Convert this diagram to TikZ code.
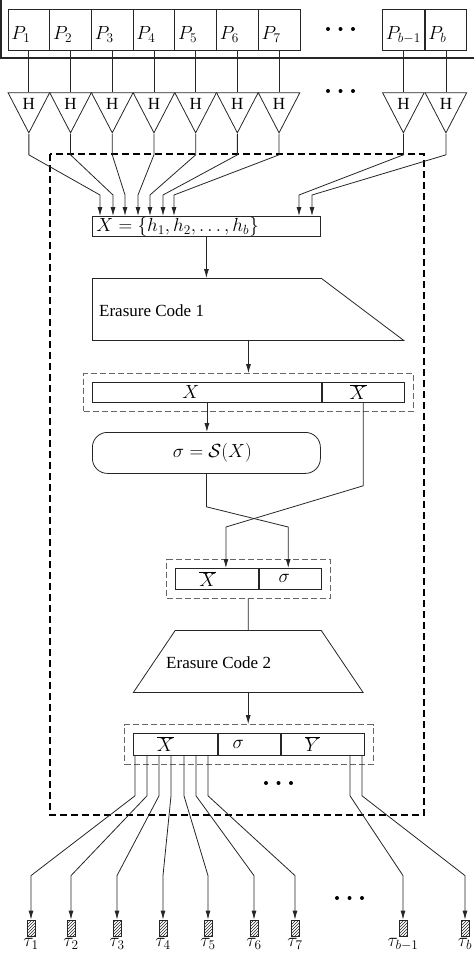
\RequirePackage{fix-cm}
\documentclass[tikz,border=0pt]{standalone}
\usepackage[no-math]{fontspec}
\setmainfont{Liberation Serif}
\usetikzlibrary{positioning,shapes.geometric,arrows.meta,fit,patterns}

\newcommand{\labfont}{\fontsize{17}{20}\selectfont}
\newcommand{\symfont}{\fontsize{19}{22}\selectfont}

\tikzset{
  base/.style={draw=black!85, line width=0.8pt},
  arr/.style={-{Latex[length=9pt,width=5pt]}},
  pbox/.style={base, rectangle, minimum width=41.7pt, minimum height=41pt, inner sep=0pt,
    text width=35pt, align=left, text height=21pt, text depth=0pt, font=\symfont},
  htri/.style={base, isosceles triangle, isosceles triangle stretches, shape border rotate=-90,
    minimum width=41.5pt, minimum height=40pt, inner sep=0pt, font=\labfont},
  ecode/.style={base, trapezium, text height=62pt, text depth=0pt, inner sep=0pt,
    anchor=top left corner},
  cell/.style={base, rectangle, minimum height=21pt, inner sep=0pt},
  ctext/.style 2 args={label={[xshift=#1, font=\symfont]center:#2}},
  groupbox/.style={draw=black!60, dash pattern=on 6pt off 3pt, line width=0.8pt, inner sep=8.5pt},
  store/.style={base, minimum width=8pt, minimum height=16pt, inner sep=0pt,
    pattern=north east lines, pattern color=black!85},
  ectext/.style={inner sep=0pt, font=\labfont}
}

\begin{document}
\begin{tikzpicture}[x=1pt, y=-1pt]
    \useasboundingbox (0,0) rectangle (474,955);

    % Rahmen oben
    \draw[base, line width=1.2pt] (1,0) -- (1,58) -- (474,58);

    % Pakete P_i
    \foreach \i in {1,...,7}
      \node[pbox] (p\i) at ({8+41.7*(\i-0.5)},29.5) {$P_{\i}$};
    \node[pbox] (p8) at (403.4,29.5) {$P_{b-1}$};
    \node[pbox, right=0pt of p8] (p9) {$P_b$};

    % Hash-Dreiecke
    \foreach \i in {1,...,9} {
      \node[htri, anchor=lower side] (h\i) at ([yshift=-42pt]p\i.south) {H};
      \draw[base] (p\i.south) -- (h\i.lower side);
    }

    % Punkte
    \foreach \x/\y in {328/29, 328/91, 266/783, 337/898}
      \foreach \k in {0,1,2}
        \fill[black] (\x+12.5*\k,\y) circle (2pt);

    % grosser Rahmen
    \draw[line width=2.8pt, dash pattern=on 7pt off 4pt] (50,154) rectangle (424,815);

    % Menge X
    \node[base, minimum width=228pt, minimum height=20pt, inner ysep=0pt, inner xsep=4pt,
      text width=220pt, align=left, font=\symfont, anchor=north west] (xset) at (92,216)
      {$X=\{h_1,h_2,\ldots,h_b\}$};

    \foreach \i/\t in {1/8pt, 2/21pt, 3/33pt, 4/46pt, 5/58pt, 6/71pt, 7/82pt, 8/207pt, 9/220pt}
      \draw[base, arr] (h\i.apex) -- ++(0,21) -- ([shift={(\t,21pt)}]xset.north west)
        -- ([xshift=\t]xset.north west);

    % Erasure Code 1
    \node[ecode, trapezium left angle=90, trapezium right angle=37, text width=229pt]
      (ec1) at (92,278) {};
    \node[ectext, anchor=west] (ec1lab) at ([xshift=7pt, yshift=-33pt]ec1.top left corner)
      {Erasure Code 1};
    \draw[base, arr] (xset.south) -- (xset.south |- ec1.top side);

    % X | X-quer
    \node[cell, minimum width=229pt, minimum height=20pt, anchor=north west,
      ctext={-16pt}{$X$}] (x1) at (92,382) {};
    \node[cell, minimum width=82pt, minimum height=20pt, right=0pt of x1,
      ctext={-5pt}{$\overline{X}$}] (xb1) {};
    \node[groupbox, fit=(x1)(xb1)] (g1) {};
    \draw[base, arr] (ec1.bottom side) -- (ec1.bottom side |- g1.north);

    % sigma
    \node[base, rounded corners=15pt, minimum width=228pt, minimum height=41pt,
      anchor=north west, ctext={6pt}{$\sigma=\mathcal{S}(X)$}] (sig) at (92,432) {};
    \draw[base, arr] (x1.south) -- (x1.south |- sig.north);

    % X-quer | sigma
    \node[cell, minimum width=83pt, anchor=north west, ctext={-9pt}{$\overline{X}$}]
      (x2) at (175,568) {};
    \node[cell, minimum width=62pt, right=0pt of x2, ctext={-6pt}{$\sigma$}] (s2) {};
    \node[groupbox, fit=(x2)(s2)] (g2) {};

    \draw[base, arr] (xb1.south) -- ++(0,83) -- ([shift={(9pt,41pt)}]x2.north)
      -- ([xshift=9pt]x2.north);
    \draw[base, arr] (sig.south) -- ++(0,33) -- ([shift={(-2pt,41pt)}]s2.north)
      -- ([xshift=-2pt]s2.north);

    % Erasure Code 2
    \node[ecode, trapezium left angle=56, trapezium right angle=56, text width=146pt]
      (ec2) at (175,630) {};
    \node[ectext, anchor=west] (ec2lab) at ([xshift=-9pt, yshift=-33pt]ec2.top left corner)
      {Erasure Code 2};
    \draw[base] (g2.south) -- (ec2.top side);

    % X-quer | sigma | Y-quer
    \node[cell, minimum width=84pt, minimum height=22pt, anchor=north west,
      ctext={-10pt}{$\overline{X}$}] (x3) at (133,733) {};
    \node[cell, minimum width=62pt, minimum height=22pt, right=0pt of x3,
      ctext={-11pt}{$\sigma$}] (s3) {};
    \node[cell, minimum width=83pt, minimum height=22pt, right=0pt of s3,
      ctext={-10pt}{$\overline{Y}$}] (y3) {};
    \node[groupbox, fit=(x3)(y3)] (g3) {};
    \draw[base, arr] (ec2.bottom side) -- (ec2.bottom side |- g3.north);

    % Speicher tau_i
    \foreach \i/\s/\t/\n in {1/2pt/31/1, 2/14pt/71/2, 3/26pt/117/3, 4/38pt/163/4, 5/51pt/208/5,
        6/63pt/254/6, 7/75pt/295/7, 8/217pt/403/b-1, 9/229pt/465/b} {
      \node[store] (st\i) at (\t,928) {};
      \node[inner sep=0pt, font=\symfont, below=2pt of st\i] (tau\i) {$\tau_{\n}$};
      \draw[base, arr] ([xshift=\s]x3.south west) -- ++(0,40) -- ([yshift=44pt]st\i.north)
        -- (st\i.north);
    }
\end{tikzpicture}
\end{document}
